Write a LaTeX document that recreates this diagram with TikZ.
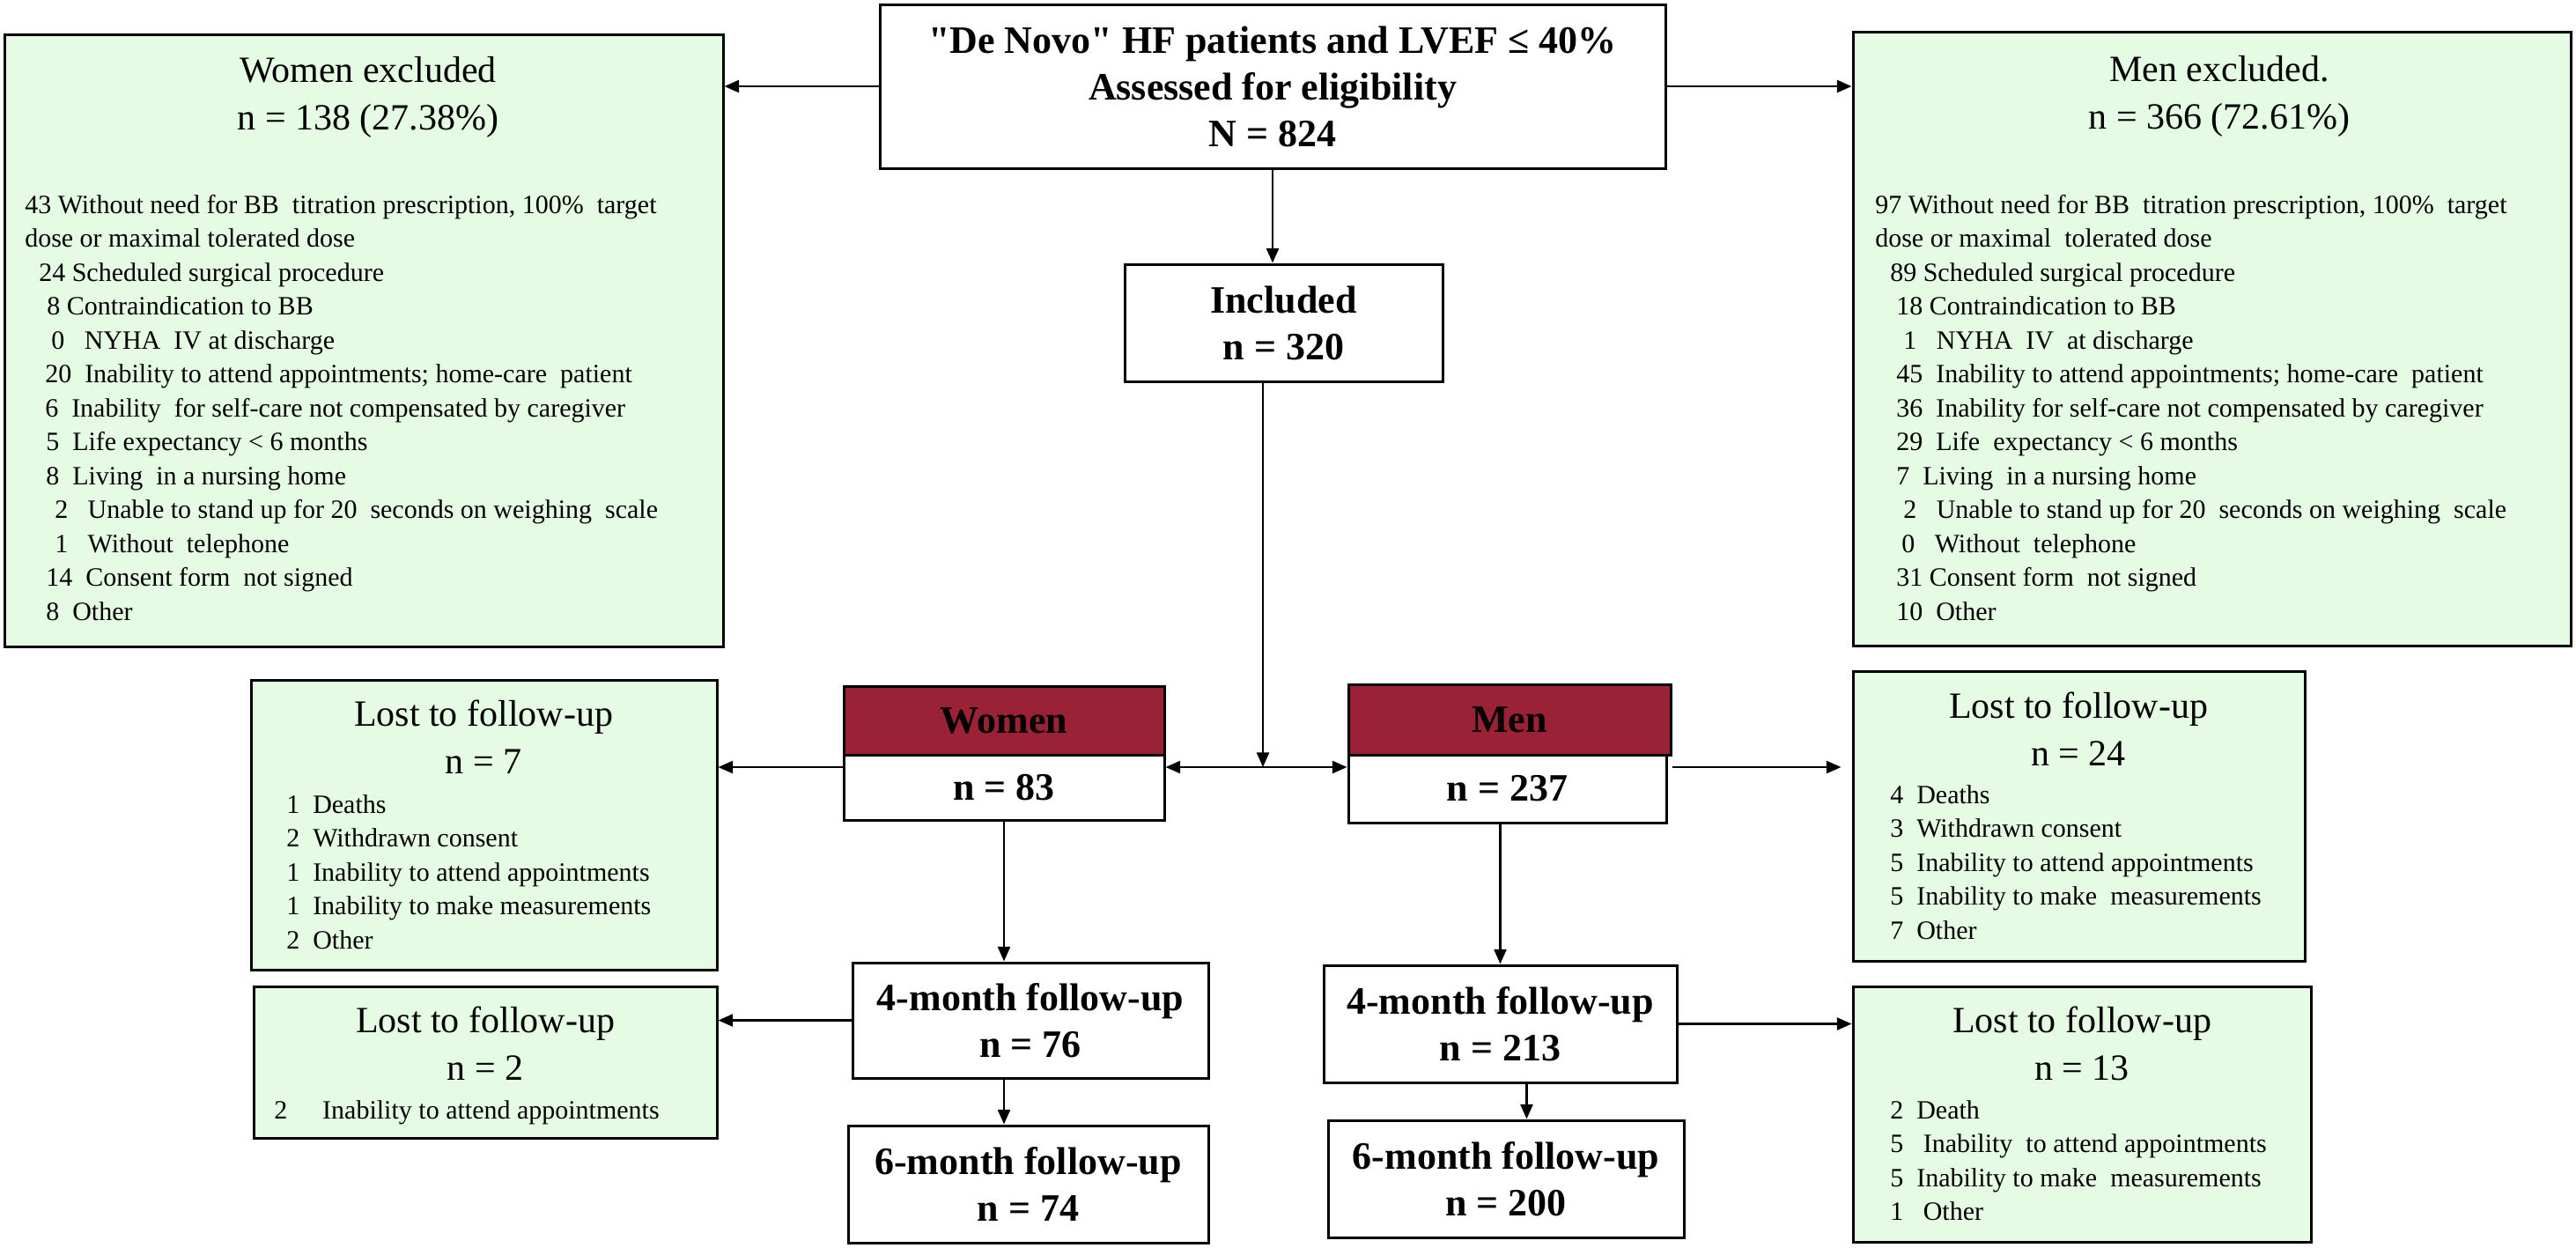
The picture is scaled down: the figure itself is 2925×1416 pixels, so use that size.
\documentclass[tikz,border=0pt]{standalone}
\usepackage{fontspec}
\setmainfont{Liberation Serif}[Ligatures=TeXOff]
\usepackage{tikz}
\usetikzlibrary{arrows.meta,calc}
\newdimen\pxu \pxu=0.3pt
\definecolor{verdeclaro}{RGB}{229,251,228}
\definecolor{vinho}{RGB}{155,34,54}

\begin{document}
\begin{tikzpicture}[>={Triangle[length=5pt,width=4.2pt]}, x=0.3pt, y=-0.3pt,
    whitebox/.style={draw, line width=0.9pt, fill=white, inner sep=0pt, align=center,
      font=\bfseries\fontsize{13.2}{15.9}\selectfont},
    lost/.style={draw, line width=0.9pt, fill=verdeclaro, inner sep=0pt},
    boxtitle/.style={inner sep=0pt, anchor=base, align=center,
      font=\fontsize{12.6}{16.2}\selectfont},
    itemlist/.style={inner sep=0pt, anchor=base west, align=left,
      font=\fontsize{9}{11.55}\selectfont},
    every path/.style={line width=0.75pt}]
  \useasboundingbox (0,0) rectangle (2925,1416);

  % caixa inicial
  \node[whitebox, minimum width=892\pxu, minimum height=186\pxu] (screen) at (1445,98)
    {"De Novo" HF patients and LVEF ≤ 40\%\\ Assessed for eligibility\\ N = 824};

  % excluidos (mulheres); base = ultima linha
  \node[lost, minimum width=816\pxu, minimum height=695\pxu] (womenexc) at (413,386.5) {};
  \node[boxtitle] (womenexct) at (418,147) {Women excluded\\ n = 138 (27.38\%)};
  \node[itemlist] (womenexcl) at (27,704) {%
    43 Without need for BB~ titration prescription, 100\%~ target\\
    dose or maximal tolerated dose\\
    \hspace*{16\pxu}24 Scheduled surgical procedure\\
    \hspace*{25\pxu}8 Contraindication to BB\\
    \hspace*{30\pxu}0~~ NYHA~ IV at discharge\\
    \hspace*{23\pxu}20~ Inability to attend appointments; home-care~ patient\\
    \hspace*{23\pxu}6~ Inability~ for self-care not compensated by caregiver\\
    \hspace*{24\pxu}5~ Life expectancy < 6 months\\
    \hspace*{24\pxu}8~ Living~ in a nursing home\\
    \hspace*{34\pxu}2~~ Unable to stand up for 20~ seconds on weighing~ scale\\
    \hspace*{34\pxu}1~~ Without~ telephone\\
    \hspace*{24\pxu}14~ Consent form~ not signed\\
    \hspace*{24\pxu}8~ Other};

  % excluidos (homens)
  \node[lost, minimum width=815\pxu, minimum height=697\pxu] (menexc) at (2511.5,384.5) {};
  \node[boxtitle] (menexct) at (2520,146) {Men excluded.\\ n = 366 (72.61\%)};
  \node[itemlist] (menexcl) at (2128,704) {%
    97 Without need for BB~ titration prescription, 100\%~ target\\
    dose or maximal~ tolerated dose\\
    \hspace*{17\pxu}89 Scheduled surgical procedure\\
    \hspace*{24\pxu}18 Contraindication to BB\\
    \hspace*{32\pxu}1~~ NYHA~ IV~ at discharge\\
    \hspace*{24\pxu}45~ Inability to attend appointments; home-care~ patient\\
    \hspace*{24\pxu}36~ Inability for self-care not compensated by caregiver\\
    \hspace*{24\pxu}29~ Life~ expectancy < 6 months\\
    \hspace*{24\pxu}7~ Living~ in a nursing home\\
    \hspace*{32\pxu}2~~ Unable to stand up for 20~ seconds on weighing~ scale\\
    \hspace*{30\pxu}0~~ Without~ telephone\\
    \hspace*{24\pxu}31 Consent form~ not signed\\
    \hspace*{24\pxu}10~ Other};

  % incluidos
  \node[whitebox, minimum width=361\pxu, minimum height=133\pxu] (incl) at (1457.5,366.5)
    {Included\\ n = 320};

  % grupos
  \node[whitebox, fill=vinho, minimum width=364\pxu, minimum height=78\pxu] (womenhd) at (1140,818) {Women};
  \node[whitebox, minimum width=364\pxu, minimum height=74\pxu] (womenn) at (1140,894) {n = 83};
  \node[whitebox, fill=vinho, minimum width=366\pxu, minimum height=80\pxu] (menhd) at (1714,817) {Men};
  \node[whitebox, minimum width=361\pxu, minimum height=77\pxu] (menn) at (1711.5,895.5) {n = 237};

  % seguimento
  \node[whitebox, minimum width=404\pxu, minimum height=131\pxu] (w4) at (1170,1158.5)
    {4-month follow-up\\ n = 76};
  \node[whitebox, minimum width=409\pxu, minimum height=133\pxu] (w6) at (1167.5,1344.5)
    {6-month follow-up\\ n = 74};
  \node[whitebox, minimum width=401\pxu, minimum height=133\pxu] (m4) at (1703.5,1162.5)
    {4-month follow-up\\ n = 213};
  \node[whitebox, minimum width=404\pxu, minimum height=133\pxu] (m6) at (1710,1338.5)
    {6-month follow-up\\ n = 200};

  % perdas de seguimento
  \node[lost, minimum width=529\pxu, minimum height=329\pxu] (lostw1) at (549.5,936.5) {};
  \node[boxtitle] (lostw1t) at (549,878) {Lost to follow-up\\ n = 7};
  \node[itemlist] (lostw1l) at (324,1077) {1~ Deaths\\ 2~ Withdrawn consent\\
    1~ Inability to attend appointments\\ 1~ Inability to make measurements\\ 2~ Other};

  \node[lost, minimum width=513\pxu, minimum height=329\pxu] (lostm1) at (2360.5,926.5) {};
  \node[boxtitle] (lostm1t) at (2360,869) {Lost to follow-up\\ n = 24};
  \node[itemlist] (lostm1l) at (2145,1066) {4~ Deaths\\ 3~ Withdrawn consent\\
    5~ Inability to attend appointments\\ 5~ Inability to make~ measurements\\ 7~ Other};

  \node[lost, minimum width=526\pxu, minimum height=172\pxu] (lostw2) at (551,1206) {};
  \node[boxtitle] (lostw2t) at (551,1226) {Lost to follow-up\\ n = 2};
  \node[itemlist] (lostw2l) at (310,1270) {2\hspace*{40\pxu}Inability to attend appointments};

  \node[lost, minimum width=520\pxu, minimum height=290\pxu] (lostm2) at (2364,1265) {};
  \node[boxtitle] (lostm2t) at (2364,1226) {Lost to follow-up\\ n = 13};
  \node[itemlist] (lostm2l) at (2145,1385.5) {2~ Death\\ 5~~ Inability~ to attend appointments\\
    5~ Inability to make~ measurements\\ 1~~ Other};

  % ligacoes
  \coordinate (split) at (1434,871);
  \coordinate (m46) at ($(m4.south)+(30,0)$);
  \draw[->] (screen.west) -- (screen.west -| womenexc.east);
  \draw[->] (screen.east) -- (screen.east -| menexc.west);
  \draw[->] (screen.south) -- (screen.south |- incl.north);
  \draw[->] (incl.south -| split) -- (split);
  \draw[<->] (split -| womenn.east) -- (split -| menn.west);
  \draw[->] (split -| womenn.west) -- (split -| lostw1.east);
  \draw[->, shorten >=12\pxu] (split -| menhd.east) -- (split -| lostm1.west);
  \draw[->] (womenn.south) -- (womenn.south |- w4.north);
  \draw[->] (m4.north |- menn.south) -- (m4.north);
  \draw[->] (womenn.south |- w4.south) -- (womenn.south |- w6.north);
  \draw[->] (m46) -- (m46 |- m6.north);
  \draw[->] (w4.west) -- (w4.west -| lostw2.east);
  \draw[->] (m4.east) -- (m4.east -| lostm2.west);
\end{tikzpicture}
\end{document}
